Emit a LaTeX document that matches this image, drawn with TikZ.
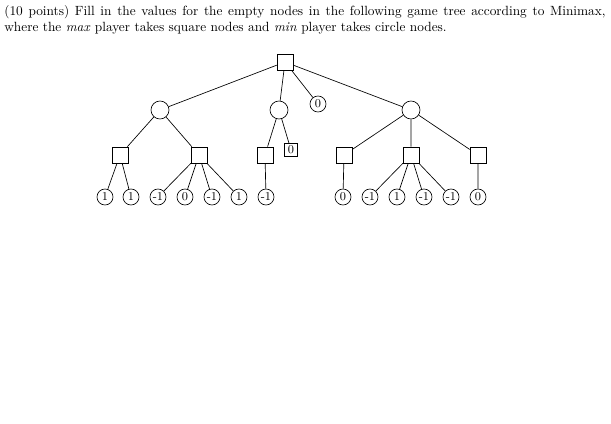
\documentclass[tikz,border=0pt]{standalone}
\begin{document}
\begin{tikzpicture}[x=0.75pt,y=-0.75pt,
  sq/.style={draw,minimum size=12pt,inner sep=0pt},
  sqv/.style={draw,minimum size=9.5pt,inner sep=1pt,font=\small},
  ci/.style={draw,circle,minimum size=13.5pt,inner sep=0pt},
  lf/.style={draw,circle,minimum size=12pt,inner sep=0pt,font=\small},
  every path/.style={line width=0.5pt}]
\useasboundingbox (0,0) rectangle (611,424);
\node[anchor=north west,text width=451pt,align=justify,inner sep=0pt] (t) at (4,5)
 {(10 points) Fill in the values for the empty nodes in the following game tree according to Minimax,\linebreak
 where the \emph{max} player takes square nodes and \emph{min} player takes circle nodes.};
\node[sq] (r) at (285,62) {};
\node[ci] (a) at (160,110) {};
\node[ci] (b) at (279,110) {};
\node[lf] (c) at (318,104) {0};
\node[ci] (d) at (411,110) {};
\draw (r)--(a) (r)--(b) (r)--(c) (r)--(d);
\node[sq] (a1) at (120,155) {};
\node[sq] (a2) at (199,155) {};
\node[sq] (b1) at (265,155) {};
\node[sqv] (b2) at (291,150) {0};
\node[sq] (d1) at (344,155) {};
\node[sq] (d2) at (411,155) {};
\node[sq] (d3) at (478,155) {};
\draw (a)--(a1) (a)--(a2) (b)--(b1) (b)--(b2) (d)--(d1) (d)--(d2) (d)--(d3);
\node[lf] (l1) at (105,197) {1};
\node[lf] (l2) at (131,197) {1};
\node[lf] (l3) at (158,197) {-1};
\node[lf] (l4) at (185,197) {0};
\node[lf] (l5) at (212,197) {-1};
\node[lf] (l6) at (239,197) {1};
\node[lf] (l7) at (266,197) {-1};
\node[lf] (l8) at (343,197) {0};
\node[lf] (l9) at (370,197) {-1};
\node[lf] (l10) at (397,197) {1};
\node[lf] (l11) at (424,197) {-1};
\node[lf] (l12) at (451,197) {-1};
\node[lf] (l13) at (478,197) {0};
\draw (a1)--(l1) (a1)--(l2) (a2)--(l3) (a2)--(l4) (a2)--(l5) (a2)--(l6) (b1)--(l7)
 (d1)--(l8) (d2)--(l9) (d2)--(l10) (d2)--(l11) (d2)--(l12) (d3)--(l13);
\end{tikzpicture}
\end{document}
